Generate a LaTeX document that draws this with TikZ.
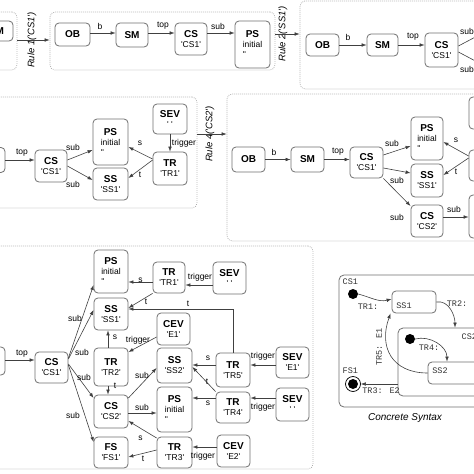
\documentclass[tikz,border=0pt]{standalone}
\usepackage{fontspec}
\setmainfont{Liberation Sans}
\newfontfamily\monofam{Liberation Mono}
\usetikzlibrary{arrows.meta}
\definecolor{nodegray}{HTML}{707070}
\definecolor{edgegray}{HTML}{404040}
\definecolor{framegray}{HTML}{9A9A9A}
\newcommand\titlefont{\fontsize{10}{12}\selectfont\bfseries}
\newcommand\attrfont{\fontsize{8.5}{10}\selectfont}
\newcommand\ttl[1]{{\titlefont #1}}
\newcommand\qt[1]{\textquotesingle#1\textquotesingle}
\tikzset{
 sz/.style 2 args={minimum width=#1pt, minimum height=#2pt},
 obj/.style={draw=nodegray, line width=0.8pt, rounded corners=4pt, fill=white, align=center, inner sep=1pt, font=\attrfont},
 lbl/.style={font=\attrfont, inner sep=0.5pt},
 edge/.style={draw=edgegray, line width=0.6pt, -{Latex[length=5pt,width=3.6pt]}},
 frame/.style={draw=framegray, line width=0.7pt, dash pattern=on 0.7pt off 1.3pt, rounded corners=5pt, inner sep=0pt},
 rulelbl/.style={font=\fontsize{9.5}{11}\selectfont\itshape, rotate=90, inner sep=0pt},
 csbox/.style={draw=nodegray, line width=0.8pt, rounded corners=5pt, inner sep=0pt},
 csstate/.style={draw=nodegray, line width=0.8pt, rounded corners=4pt, inner sep=0pt},
 cslbl/.style={font=\monofam\fontsize{8.5}{10}\selectfont, text=black!80, inner sep=0.5pt},
 dot/.style={circle, fill=black, minimum size=10pt, inner sep=0pt},
 csttl/.style={font=\fontsize{10}{12}\selectfont\itshape, inner sep=0pt},
}
\begin{document}
\begin{tikzpicture}[x=1pt,y=-1pt]
\useasboundingbox (0,0) rectangle (474,474);
\clip (0,0) rectangle (474,474);
\fill[white] (0,0) rectangle (474,474);
% frames
\node[frame, sz={37}{58}] (f1) at (-1.5,41) {};
\node[frame, sz={225}{58}] (f2) at (162.5,41) {};
\node[frame, sz={190}{88}] (f3) at (395,45) {};
\node[frame, sz={217}{111}] (f4) at (88.5,152.5) {};
\node[frame, sz={263}{147}] (f5) at (358.5,167.5) {};
\node[frame, sz={333}{223}] (f6) at (146.5,357.5) {};
% rule labels
\node[rulelbl] (r1) at (32,40) {Rule 1(\qt{CS1})};
\node[rulelbl] (r2) at (283,34) {Rule 2(\qt{SS1})};
\node[rulelbl] (r4) at (210,134) {Rule 4(\qt{CS2})};
\draw[edge] (f1.east |- r1) -- (f2.west |- r1);
\draw[edge] (f2.east |- r2) -- (f3.west |- r2);
\draw[edge] (f4.east |- r4) -- (f5.west |- r4);

% ---- row 1, frame 1/2
\node[obj, sz={33}{20}] (sm1) at (-3.5,31) {\ttl{SM}};
\node[obj, sz={35}{23}] (ob2) at (72.5,34.5) {\ttl{OB}};
\node[obj, sz={32}{24}] (sm2) at (132,35) {\ttl{SM}};
\node[obj, sz={32}{32}] (cs2) at (191,39) {\ttl{CS}\\\qt{CS1}};
\node[obj, align=left, sz={35}{47}] (ps2) at (252.5,44.5) {\hspace*{3pt}\ttl{PS}\\initial\\\qt{}};
\draw[edge] (ob2.east |- 0,33) -- (sm2.west |- 0,33);
\draw[edge] (sm2.east |- 0,33) -- (cs2.west |- 0,33);
\draw[edge] (cs2.east |- 0,33) -- (ps2.west |- 0,33);
\node[lbl] (l1) at (100,26) {b};
\node[lbl] (l2) at (163,26) {top};
\node[lbl] (l3) at (218,26) {sub};

% ---- row 1, frame 3
\node[obj, sz={33}{22}] (ob3) at (322.5,45) {\ttl{OB}};
\node[obj, sz={31}{22}] (sm3) at (382.5,45) {\ttl{SM}};
\node[obj, sz={33}{34}] (cs3) at (441.5,50) {\ttl{CS}\\\qt{CS1}};
\coordinate (o1) at (500,24);
\coordinate (o2) at (500,74);
\draw[edge] (ob3) -- (sm3);
\draw[edge] (sm3.east) -- (sm3.east -| cs3.west);
\draw[edge] (cs3.east |- 0,46) -- (o1);
\draw[edge] (cs3.east |- 0,52) -- (o2);
\node[lbl] (l4) at (348,37) {b};
\node[lbl] (l5) at (413,37) {top};
\node[lbl] (l6) at (467,31) {sub};
\node[lbl] (l7) at (467,69) {sub};

% ---- row 2, frame 4
\node[obj, sz={33}{25}] (x4) at (-11.5,160) {};
\node[obj, sz={32}{32}] (cs4) at (51,166) {\ttl{CS}\\\qt{CS1}};
\node[obj, align=left, sz={35}{46}] (ps4) at (110.5,142) {\hspace*{3pt}\ttl{PS}\\initial\\\qt{}};
\node[obj, sz={35}{32}] (ss4) at (110.5,184) {\ttl{SS}\\\qt{SS1}};
\node[obj, sz={34}{33}] (tr4) at (170,168.5) {\ttl{TR}\\\qt{TR1}};
\node[obj, sz={34}{30}] (sev4) at (170,119) {\ttl{SEV}\\\qt{\ }};
\draw[edge] (x4.east |- 0,160) -- (cs4.west |- 0,160);
\draw[edge] (cs4.east |- 0,160) -- (ps4.west |- 0,150);
\draw[edge] (cs4.east |- 0,166) -- (ss4.west |- 0,180);
\draw[edge] (tr4.west |- 0,159) -- (ps4.east |- 0,147);
\draw[edge] (tr4.west |- 0,160) -- (ss4.east |- 0,178);
\draw[edge] (sev4) -- (tr4);
\node[lbl] (l8) at (22,153) {top};
\node[lbl] (l9) at (73,147) {sub};
\node[lbl] (l10) at (73,184) {sub};
\node[lbl] (l11) at (140,143) {s};
\node[lbl] (l12) at (140,175) {t};
\node[lbl] (l13) at (184,143) {trigger};

% ---- row 2, frame 5
\node[obj, sz={33}{25}] (ob5) at (248.5,159.5) {\ttl{OB}};
\node[obj, sz={33}{25}] (sm5) at (307.5,159.5) {\ttl{SM}};
\node[obj, sz={33}{31}] (cs5) at (366.5,162.5) {\ttl{CS}\\\qt{CS1}};
\node[obj, align=left, sz={32}{43}] (ps5) at (427,138.5) {\hspace*{3pt}\ttl{PS}\\initial\\\qt{}};
\node[obj, sz={32}{33}] (ss5) at (427,180.5) {\ttl{SS}\\\qt{SS1}};
\node[obj, sz={32}{32}] (cs5b) at (427,221) {\ttl{CS}\\\qt{CS2}};
\node[obj, sz={34}{32}] (r5a) at (486,113) {};
\node[obj, sz={34}{31}] (r5b) at (486,165.5) {};
\node[obj, sz={34}{43}] (r5c) at (486,216.5) {};
\draw[edge] (ob5) -- (sm5);
\draw[edge] (sm5) -- (sm5 -| cs5.west);
\draw[edge] (cs5.east |- 0,155) -- (ps5.west |- 0,146);
\draw[edge] (cs5.east |- 0,168) -- (ss5.west |- 0,173);
\draw[edge] (cs5.south east) -- (cs5b.west |- 0,206);
\draw[edge] (cs5b.east |- 0,217) -- (r5c.west |- 0,217);
\draw[edge] (r5b.west |- 0,156) -- (ps5.east |- 0,142);
\draw[edge] (r5b.west |- 0,158) -- (ss5.east |- 0,175);
\node[lbl] (l14) at (274,152) {b};
\node[lbl] (l15) at (338,152) {top};
\node[lbl] (l16) at (392,143) {sub};
\node[lbl] (l17) at (397,180) {sub};
\node[lbl] (l18) at (397,217) {sub};
\node[lbl] (l19) at (454,209) {sub};
\node[lbl] (l20) at (456,140) {s};
\node[lbl] (l21) at (456,172) {t};

% ---- row 3, frame 6
\node[obj, sz={33}{28}] (x6) at (-11.5,361) {};
\node[obj, sz={33}{31}] (cs6) at (51.5,367.5) {\ttl{CS}\\\qt{CS1}};
\node[obj, align=left, sz={34}{43}] (ps6) at (111,271.5) {\hspace*{3pt}\ttl{PS}\\initial\\\qt{}};
\node[obj, sz={34}{32}] (ss6) at (111,314) {\ttl{SS}\\\qt{SS1}};
\node[obj, sz={32}{31}] (tr6a) at (169,277.5) {\ttl{TR}\\\qt{TR1}};
\node[obj, sz={33}{32}] (sev6a) at (229.5,278) {\ttl{SEV}\\\qt{\ }};
\node[obj, sz={33}{32}] (cev6a) at (173.5,329) {\ttl{CEV}\\\qt{E1}};
\node[obj, sz={34}{38}] (tr6b) at (111,367) {\ttl{TR}\\\qt{TR2}};
\node[obj, sz={35}{35}] (ss6b) at (174.5,365.5) {\ttl{SS}\\\qt{SS2}};
\node[obj, sz={34}{33}] (cs6b) at (111,411.5) {\ttl{CS}\\\qt{CS2}};
\node[obj, align=left, sz={35}{45}] (ps6b) at (174.5,409.5) {\hspace*{3pt}\ttl{PS}\\initial\\\qt{}};
\node[obj, sz={34}{31}] (fs6) at (111,452.5) {\ttl{FS}\\\qt{FS1}};
\node[obj, sz={35}{31}] (tr6c) at (174.5,452.5) {\ttl{TR}\\\qt{TR3}};
\node[obj, sz={33}{32}] (cev6b) at (233.5,451) {\ttl{CEV}\\\qt{E2}};
\node[obj, sz={34}{34}] (tr6d) at (233,370) {\ttl{TR}\\\qt{TR5}};
\node[obj, sz={34}{31}] (tr6e) at (233,407.5) {\ttl{TR}\\\qt{TR4}};
\node[obj, sz={33}{31}] (sev6b) at (292.5,362.5) {\ttl{SEV}\\\qt{E1}};
\node[obj, sz={33}{33}] (sev6c) at (292.5,404.5) {\ttl{SEV}\\\qt{\ }};

\draw[edge] (x6.east |- 0,360) -- (cs6.west |- 0,360);
\draw[edge] (cs6.east |- 0,358) -- (ps6.west |- 0,285);
\draw[edge] (cs6.east |- 0,359) -- (ss6.west |- 0,310);
\draw[edge] (cs6.east |- 0,364) -- (cs6b.west |- 0,398);
\draw[edge] (cs6.east |- 0,365) -- (fs6.west |- 0,442);
\draw[edge] (tr6a.west |- 0,282) -- (ps6.east |- 0,282);
\draw[edge] (tr6a.south west) -- (ss6.east |- 0,308);
\draw[edge] (tr6d.north) |- (ss6.east |- 0,309);
\draw[edge] ([xshift=-3pt]tr6b.north) -- ([xshift=-3pt]tr6b.north |- ss6.south);
\draw[edge] (cev6a.west |- 0,337) -- (tr6b.east |- 0,352);
\draw[edge] ([xshift=-3pt]tr6b.south) -- ([xshift=-3pt]tr6b.south |- cs6b.north);
\draw[edge] (cs6b.east |- 0,398) -- (ss6b.west |- 0,368);
\draw[edge] (cs6b.east |- 0,413) -- (ps6b.west |- 0,413);
\draw[edge] (tr6c.west |- 0,438) -- (cs6b.east |- 0,421);
\draw[edge] (tr6c.west |- 0,450) -- (fs6.east |- 0,457);
\draw[edge] (cev6b.west |- 0,447) -- (tr6c.east |- 0,447);
\draw[edge] (tr6d.west |- 0,365) -- (ss6b.east |- 0,365);
\draw[edge] (tr6e.north west) -- (ss6b.east |- 0,367);
\draw[edge] (tr6e.west |- 0,398) -- (ps6b.east |- 0,398);
\draw[edge] (sev6b.west |- 0,365) -- (tr6d.east |- 0,365);
\draw[edge] (sev6c.west |- 0,398) -- (tr6e.east |- 0,398);
\draw[edge] (sev6a.west |- 0,285) -- (tr6a.east |- 0,285);

\node[lbl] (m1) at (22,354) {top};
\node[lbl] (m2) at (75,318) {sub};
\node[lbl] (m3) at (82,352) {sub};
\node[lbl] (m4) at (84,377) {sub};
\node[lbl] (m5) at (73,415) {sub};
\node[lbl, anchor=south] (m6) at (140.5,283) {s};
\node[lbl] (m7) at (146,302) {t};
\node[lbl] (m8) at (188,304) {t};
\node[lbl] (m9) at (115,337) {s};
\node[lbl] (m10) at (138,340) {trigger};
\node[lbl] (m11) at (115,386) {t};
\node[lbl] (m12) at (142,375) {sub};
\node[lbl] (m13) at (142,407) {sub};
\node[lbl] (m14) at (140.5,438) {s};
\node[lbl] (m15) at (143,459) {t};
\node[lbl] (m16) at (203,456) {trigger};
\node[lbl] (m17) at (208,358) {s};
\node[lbl] (m18) at (207,382) {t};
\node[lbl] (m19) at (208,403) {s};
\node[lbl] (m20) at (263,356) {trigger};
\node[lbl] (m21) at (263,407) {trigger};
\node[lbl] (m22) at (200,277) {trigger};

% ---- concrete syntax
\node[csbox, sz={151}{132}] (cso) at (414.5,341) {};
\node[csbox, sz={92}{68}] (csi) at (444,362) {};
\node[csstate, sz={44}{22}] (ss1) at (414,302) {};
\node[csstate, sz={52}{22}] (ss2) at (454,373) {};
\node[dot] (d1) at (353,294) {};
\node[dot] (d2) at (410,339) {};
\node[circle, draw=black, line width=0.7pt, minimum size=15pt, inner sep=0pt] (fs) at (353,384) {};
\node[dot] (fsi) at (fs) {};
\draw[edge] (d1.east) to[out=-15, in=195] (ss1.west |- 0,299);
\draw[edge] (ss1.east) to[out=10, in=90] (csi.north -| 455,0);
\draw[edge] (d2.east) to[out=15, in=90] (ss2.north -| 447,0);
\draw[edge] (ss2.west) to[out=180, in=250, looseness=1.3] ([xshift=-1pt]ss1.south west);
\draw[edge] (csi.west |- fs) -- (fs.east);
\node[cslbl, anchor=west] (c1) at (342,282) {CS1};
\node[cslbl] (c2) at (368,307) {TR1:};
\node[cslbl] (c3) at (404,306) {SS1};
\node[cslbl] (c4) at (457,304) {TR2:};
\node[cslbl, anchor=west] (c5) at (461,337) {CS2};
\node[cslbl] (c6) at (429,348) {TR4:};
\node[cslbl] (c7) at (440,371) {SS2};
\node[cslbl, rotate=90] (c8) at (379,347) {TR5: E1};
\node[cslbl, anchor=west] (c9) at (342,371) {FS1};
\node[cslbl] (c10) at (381,391) {TR3: E2};
\node[csttl] (ct) at (405,418) {Concrete Syntax};
\end{tikzpicture}
\end{document}
